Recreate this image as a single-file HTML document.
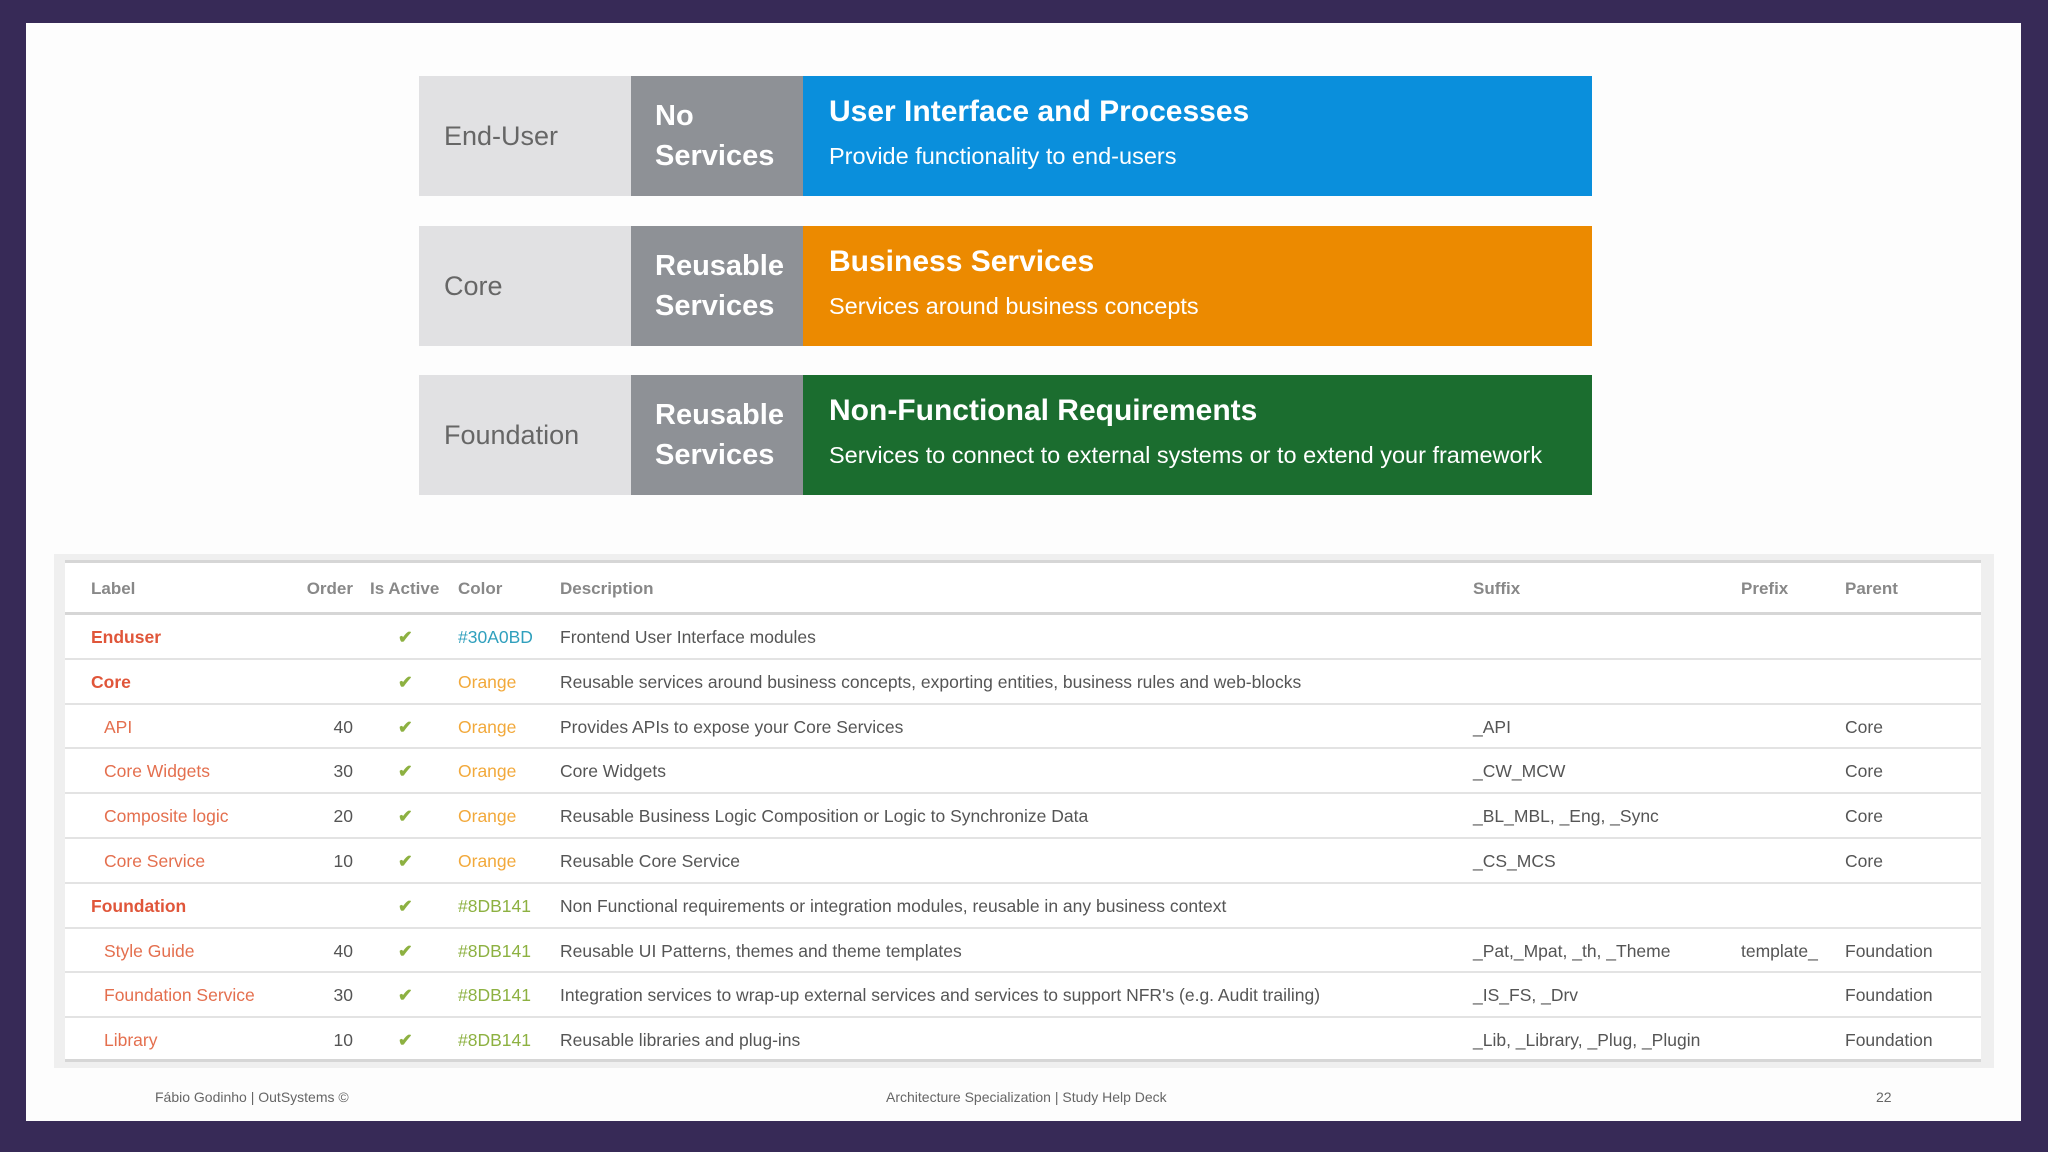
<!DOCTYPE html>
<html><head><meta charset="utf-8"><style>
*{margin:0;padding:0;box-sizing:border-box}
body{width:2048px;height:1152px;background:#372a57;position:relative;overflow:hidden;font-family:"Liberation Sans",sans-serif}
#slide{position:absolute;left:26px;top:23px;width:1995px;height:1098px;background:#fdfdfd}
.band{position:absolute;left:419px;width:1173px;height:120px}
.lab{position:absolute;left:0;top:0;width:212px;height:120px;background:#e1e1e3;color:#666;font-size:27px;line-height:120px;padding-left:25px}
.svc{position:absolute;left:212px;top:0;width:172px;height:120px;background:#8e9196;color:#fff;font-size:29px;font-weight:bold;line-height:40px;padding:20px 0 0 24px}
.col{position:absolute;left:384px;top:0;width:789px;height:120px;color:#fff;padding:16px 0 0 26px;overflow:hidden}
.col .t{font-size:30px;font-weight:bold;line-height:40px}
.col .s{font-size:23.5px;line-height:40px;margin-top:4px;white-space:nowrap}
#panel{position:absolute;left:54px;top:554px;width:1940px;height:514px;background:#efefef}
#tbl{position:absolute;left:65px;top:560px;width:1916px;height:502px;background:#fff;border-top:3px solid #d6d6d6;border-bottom:3px solid #d6d6d6}
.row{position:absolute;left:0;width:1916px;height:44.8px;border-bottom:2px solid #e3e3e3;font-size:17.5px;color:#555}
.row span{position:absolute;top:0;line-height:44px;white-space:nowrap}
.hdr{color:#888;font-weight:bold;font-size:17px}
.c-lab{left:26px}.c-sub{left:39px}
.c-ord{right:1628px;text-align:right}
.c-act{left:333px;color:#8db141;font-weight:bold}
.c-col{left:393px}.c-desc{left:495px}.c-suf{left:1408px}.c-pre{left:1676px}.c-par{left:1780px}
.p{color:#e0563a;font-weight:bold}.ch{color:#e46f4e}
.or{color:#f2a93b}.bl{color:#30a0bd}.gr{color:#8db141}
.foot{position:absolute;top:1089px;font-size:14px;color:#666}
</style></head><body>
<div id="slide">
</div>
<div class="band" style="top:76px">
 <div class="lab">End-User</div>
 <div class="svc">No<br>Services</div>
 <div class="col" style="background:#0a8fdc"><div class="t">User Interface and Processes</div><div class="s">Provide functionality to end-users</div></div>
</div>
<div class="band" style="top:226px">
 <div class="lab">Core</div>
 <div class="svc">Reusable<br>Services</div>
 <div class="col" style="background:#ec8a00"><div class="t">Business Services</div><div class="s">Services around business concepts</div></div>
</div>
<div class="band" style="top:375px">
 <div class="lab">Foundation</div>
 <div class="svc">Reusable<br>Services</div>
 <div class="col" style="background:#1b6d2f"><div class="t">Non-Functional Requirements</div><div class="s">Services to connect to external systems or to extend your framework</div></div>
</div>
<div id="panel"></div>
<div id="tbl">
 <div class="row hdr" style="top:0;height:52px;border-bottom:3px solid #d6d6d6">
  <span class="c-lab" style="line-height:52px">Label</span><span class="c-ord" style="line-height:52px">Order</span><span style="left:305px;line-height:52px">Is Active</span><span class="c-col" style="line-height:52px">Color</span><span class="c-desc" style="line-height:52px">Description</span><span class="c-suf" style="line-height:52px">Suffix</span><span class="c-pre" style="line-height:52px">Prefix</span><span class="c-par" style="line-height:52px">Parent</span>
 </div>
 <div class="row" style="top:52px"><span class="c-lab p">Enduser</span><span class="c-act">✔</span><span class="c-col bl">#30A0BD</span><span class="c-desc">Frontend User Interface modules</span></div>
 <div class="row" style="top:96.8px"><span class="c-lab p">Core</span><span class="c-act">✔</span><span class="c-col or">Orange</span><span class="c-desc">Reusable services around business concepts, exporting entities, business rules and web-blocks</span></div>
 <div class="row" style="top:141.6px"><span class="c-sub ch">API</span><span class="c-ord">40</span><span class="c-act">✔</span><span class="c-col or">Orange</span><span class="c-desc">Provides APIs to expose your Core Services</span><span class="c-suf">_API</span><span class="c-par">Core</span></div>
 <div class="row" style="top:186.4px"><span class="c-sub ch">Core Widgets</span><span class="c-ord">30</span><span class="c-act">✔</span><span class="c-col or">Orange</span><span class="c-desc">Core Widgets</span><span class="c-suf">_CW_MCW</span><span class="c-par">Core</span></div>
 <div class="row" style="top:231.2px"><span class="c-sub ch">Composite logic</span><span class="c-ord">20</span><span class="c-act">✔</span><span class="c-col or">Orange</span><span class="c-desc">Reusable Business Logic Composition or Logic to Synchronize Data</span><span class="c-suf">_BL_MBL, _Eng, _Sync</span><span class="c-par">Core</span></div>
 <div class="row" style="top:276px"><span class="c-sub ch">Core Service</span><span class="c-ord">10</span><span class="c-act">✔</span><span class="c-col or">Orange</span><span class="c-desc">Reusable Core Service</span><span class="c-suf">_CS_MCS</span><span class="c-par">Core</span></div>
 <div class="row" style="top:320.8px"><span class="c-lab p">Foundation</span><span class="c-act">✔</span><span class="c-col gr">#8DB141</span><span class="c-desc">Non Functional requirements or integration modules, reusable in any business context</span></div>
 <div class="row" style="top:365.6px"><span class="c-sub ch">Style Guide</span><span class="c-ord">40</span><span class="c-act">✔</span><span class="c-col gr">#8DB141</span><span class="c-desc">Reusable UI Patterns, themes and theme templates</span><span class="c-suf">_Pat,_Mpat, _th, _Theme</span><span class="c-pre">template_</span><span class="c-par">Foundation</span></div>
 <div class="row" style="top:410.4px"><span class="c-sub ch">Foundation Service</span><span class="c-ord">30</span><span class="c-act">✔</span><span class="c-col gr">#8DB141</span><span class="c-desc">Integration services to wrap-up external services and services to support NFR's (e.g. Audit trailing)</span><span class="c-suf">_IS_FS, _Drv</span><span class="c-par">Foundation</span></div>
 <div class="row" style="top:455.2px;border-bottom:none"><span class="c-sub ch">Library</span><span class="c-ord">10</span><span class="c-act">✔</span><span class="c-col gr">#8DB141</span><span class="c-desc">Reusable libraries and plug-ins</span><span class="c-suf">_Lib, _Library, _Plug, _Plugin</span><span class="c-par">Foundation</span></div>
</div>
<div class="foot" style="left:155px">Fábio Godinho | OutSystems ©</div>
<div class="foot" style="left:886px">Architecture Specialization | Study Help Deck</div>
<div class="foot" style="left:1876px">22</div>
</body></html>
